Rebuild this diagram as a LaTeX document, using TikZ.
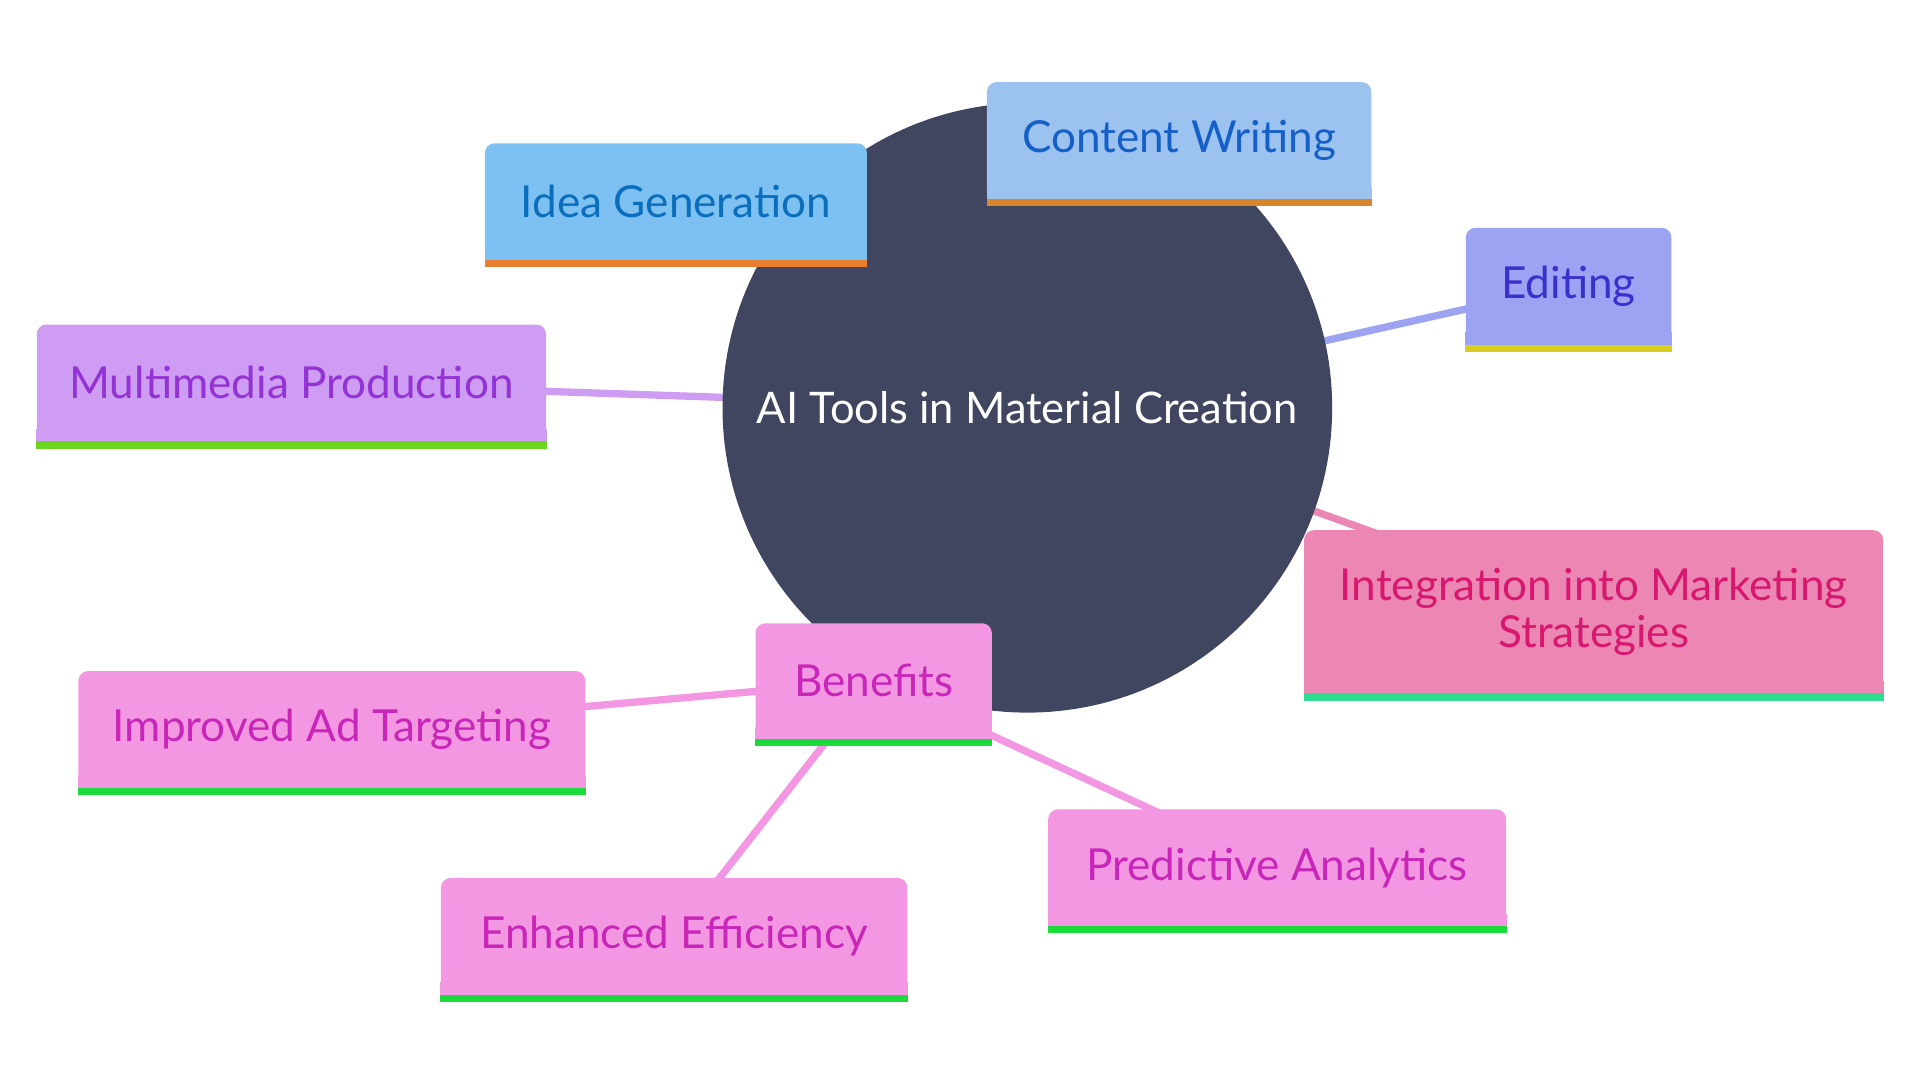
\documentclass[tikz,border=0pt]{standalone}
\usepackage{fontspec}
\setmainfont{Lato}
\usetikzlibrary{backgrounds}
\definecolor{hubfill}{HTML}{414660}
\definecolor{ideafill}{HTML}{7DC0F2}
\definecolor{ideatext}{HTML}{0B6EBD}
\definecolor{ideabar}{HTML}{E87E2E}
\definecolor{writefill}{HTML}{9CC3F0}
\definecolor{writetext}{HTML}{1560C8}
\definecolor{writebar}{HTML}{D9852B}
\definecolor{editfill}{HTML}{9CA3F2}
\definecolor{edittext}{HTML}{3B30CC}
\definecolor{editbar}{HTML}{D8CC1E}
\definecolor{mediafill}{HTML}{CE9CF2}
\definecolor{mediatext}{HTML}{9333D6}
\definecolor{mediabar}{HTML}{6BD61E}
\definecolor{marketfill}{HTML}{EC87B4}
\definecolor{markettext}{HTML}{D8186E}
\definecolor{marketbar}{HTML}{2EDB8F}
\definecolor{gainfill}{HTML}{F497E2}
\definecolor{gaintext}{HTML}{C826B8}
\definecolor{gainbar}{HTML}{1ADB3A}

\begin{document}
\begin{tikzpicture}
[x=0.02cm,y=-0.02cm,
  hubdecorate/.style={shape=circle,inner sep=0pt,minimum size=9.96cm,fill=hubfill,text=white,font=\fontsize{20.2}{25}\selectfont},
  topicbox/.style={shape=rectangle,rounded corners=4.5pt,inner sep=0pt,minimum height=1.9cm,font=\fontsize{20.5}{21.6}\selectfont},
  linkline/.style={-,line width=3.4pt}]
\useasboundingbox (0,0) rectangle (1568,882);
% central topic
\node (ai) at (839,333) [hubdecorate] {AI Tools in Material Creation};
% first level topics
\node (idea) at (552,164.5) [topicbox,fill=ideafill,text=ideatext,minimum width=6.24cm] {Idea Generation};
\node (write) at (963,114.5) [topicbox,fill=writefill,text=writetext,minimum width=6.28cm] {Content Writing};
\node (edit) at (1281,233.5) [topicbox,fill=editfill,text=edittext,minimum width=3.36cm] {Editing};
\node (media) at (238,312.5) [topicbox,fill=mediafill,text=mediatext,minimum width=8.32cm] {Multimedia Production};
\node (market) at (1301.5,499.5) [topicbox,fill=marketfill,text=markettext,minimum width=9.46cm,minimum height=2.66cm,align=center] {Integration into Marketing\\Strategies};
\node (gain) at (713.5,556) [topicbox,fill=gainfill,text=gaintext,minimum width=3.86cm,minimum height=1.88cm] {Benefits};
% benefits
\node (target) at (271,595.5) [topicbox,fill=gainfill,text=gaintext,minimum width=8.28cm] {Improved Ad Targeting};
\node (speed) at (550.5,764.5) [topicbox,fill=gainfill,text=gaintext,minimum width=7.62cm] {Enhanced Efficiency};
\node (predict) at (1043,708.5) [topicbox,fill=gainfill,text=gaintext,minimum width=7.48cm] {Predictive Analytics};
% square bottoms and coloured bars
\foreach \n/\f/\b in {idea/ideafill/ideabar,write/writefill/writebar,edit/editfill/editbar,
  media/mediafill/mediabar,market/marketfill/marketbar,gain/gainfill/gainbar,
  target/gainfill/gainbar,speed/gainfill/gainbar,predict/gainfill/gainbar}
{
  \fill[\f] (\n.south west) rectangle ([yshift=0.2cm]\n.south east);
  \fill[\b] (\n.south west) rectangle ([yshift=-0.12cm]\n.south east);
}
% edges
\begin{scope}[on background layer]
\path
(ai.center) edge[linkline,color=ideafill] (idea.center)
(ai.center) edge[linkline,color=writefill] (write.center)
(ai.center) edge[linkline,color=editfill] (edit.center)
(ai.center) edge[linkline,color=mediafill] (media.center)
(ai.center) edge[linkline,color=marketfill] (market.center)
(ai.center) edge[linkline,color=gainfill] (gain.center)
(gain.center) edge[linkline,color=gainfill] (target.center)
(gain.center) edge[linkline,color=gainfill] (speed.center)
(gain.center) edge[linkline,color=gainfill] (predict.center);
\end{scope}
\end{tikzpicture}
\end{document}
